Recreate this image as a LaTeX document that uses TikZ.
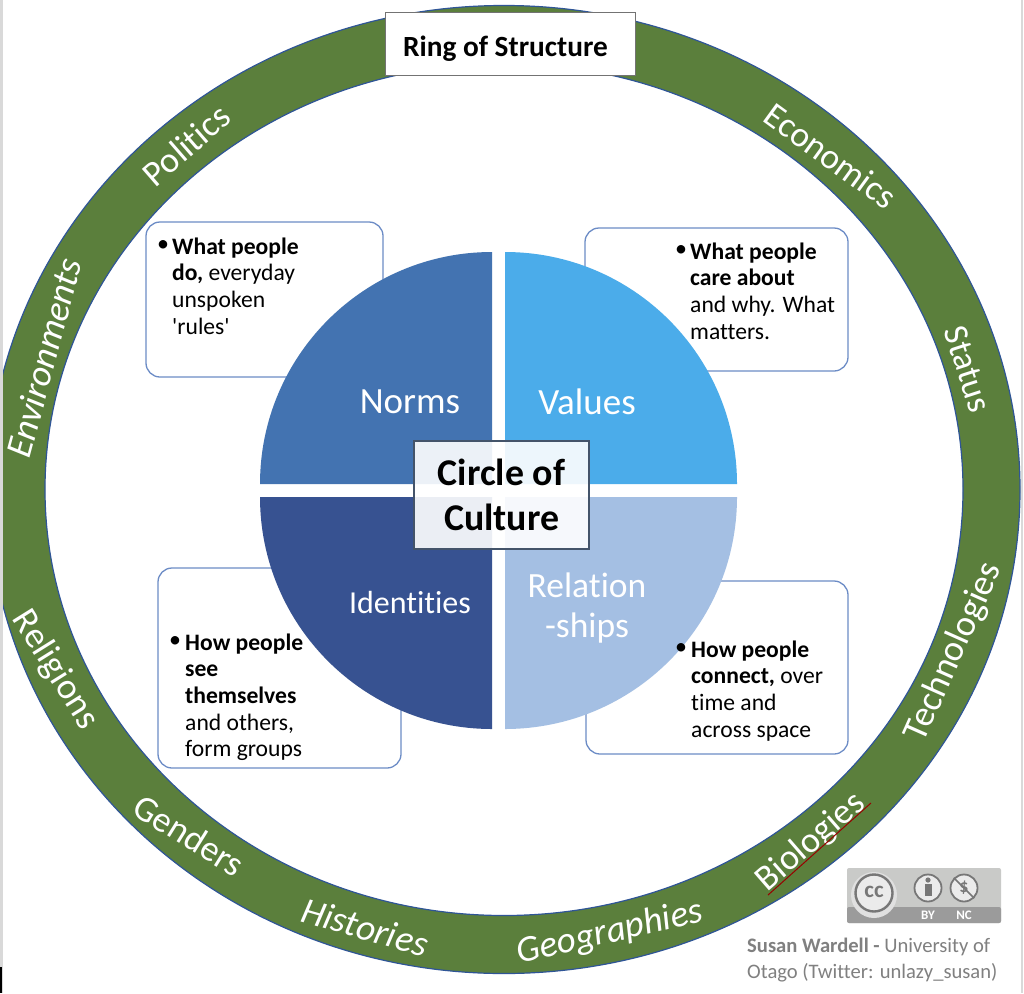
\documentclass[tikz,border=0pt]{standalone}
\usepackage{fontspec}
\setmainfont{Carlito}[Ligatures={TeX,NoCommon}]
\usetikzlibrary{positioning}

\definecolor{ringgreen}{HTML}{5B7F3C}
\definecolor{ringline}{HTML}{2F5597}
\definecolor{boxline}{HTML}{6C8CC6}
\definecolor{normsblue}{HTML}{4373B1}
\definecolor{valuesblue}{HTML}{4BACEA}
\definecolor{identblue}{HTML}{375291}
\definecolor{relblue}{HTML}{A4BFE3}
\definecolor{titleline}{HTML}{44546A}
\definecolor{ccgrey}{HTML}{C9CAC8}
\definecolor{ccdark}{HTML}{9B9B9B}
\definecolor{ccline}{HTML}{777777}

\tikzset{
  ringword/.style={text=white, font=\fontsize{#1}{#1}\selectfont, inner sep=0pt},
  ringslant/.style={text=white, font=\fontsize{#1}{#1}\selectfont\itshape, inner sep=0pt},
  quarter/.style={text=white, font=\fontsize{#1}{40}\selectfont, inner sep=0pt, align=center},
  infobox/.style={draw=boxline, line width=1.3pt, fill=white, rounded corners=14pt},
  infotext/.style={anchor=north west, align=left, inner sep=0pt, font=\fontsize{23.6}{26.6}\selectfont},
  dot/.style={inner sep=0pt, font=\fontsize{24}{26.6}\selectfont},
  ccicon/.style={circle, draw=ccline, line width=1.8pt, fill=black!8, minimum size=27pt, inner sep=0pt},
  cclabel/.style={inner sep=0pt, text=white, font=\fontsize{13}{13}\selectfont\bfseries}
}

\begin{document}
\begin{tikzpicture}[x=1pt, y=-1pt]
\useasboundingbox (0,0) rectangle (1024,993);
\def\rx{504}
\def\ry{489.5}

\fill[white] (0,0) rectangle (1024,993);
\fill[black!15] (0,0) rectangle (3,993);
\fill[black!15] (1021,0) rectangle (1023,993);
\fill[black] (0,967) rectangle (1.5,993);

\begin{scope}
\clip (3,0) rectangle (1021,993);
\fill[ringgreen, even odd rule] (\rx,\ry) ellipse (516 and 484) (\rx,\ry) ellipse (459 and 426);
\draw[ringline, line width=1.2pt] (\rx,\ry) ellipse (516 and 484);
\draw[ringline, line width=1.2pt] (\rx,\ry) ellipse (459 and 426);
\end{scope}

\node[draw=black!55, line width=1pt, fill=white, minimum width=250pt, minimum height=63pt, text height=31pt,
  font=\fontsize{29.3}{29.3}\selectfont\bfseries] (ringtitle) at (510,43.5) {Ring of Structure\hspace*{9pt}};

\node[ringword=36, rotate=41] (politics) at (186,145) {Politics};
\node[ringword=35.5, rotate=-36] (economics) at (831,156) {Economics};
\node[ringword=35, rotate=-72] (status) at (968,369) {Status};
\node[ringword=36.5, rotate=66] (technologies) at (954,652) {Technologies};
\node[ringword=36, rotate=41] (biologies) at (811,842) {Biologies};
\node[ringslant=37, rotate=13] (geographies) at (610,933) {Geographies};
\node[ringslant=37, rotate=-16] (histories) at (365,927) {Histories};
\node[ringword=36, rotate=-32] (genders) at (189,835) {Genders};
\node[ringword=36.5, rotate=-58] (religions) at (55,670) {Religions};
\node[ringslant=37, rotate=75] (environments) at (44,358) {Environments};
\draw[red!60!black, line width=1pt] (768,895) -- (871,803);

\draw[infobox] (146,222) rectangle (383,377);
\draw[infobox] (585,228) rectangle (848,371);
\draw[infobox] (158,568) rectangle (401,768);
\draw[infobox] (586,581) rectangle (848,754);

\node[dot] (dotnorms) at (163,246) {•};
\node[infotext] (textnorms) at (172,237.5) {\textbf{What people}\\\textbf{do,} everyday\\unspoken\\\textquotesingle rules\textquotesingle};
\node[dot] (dotvalues) at (681,251) {•};
\node[infotext] (textvalues) at (690,242.5) {\textbf{What people}\\\textbf{care about}\\and why. What\\matters.};
\node[dot] (dotident) at (175,642) {•};
\node[infotext] (textident) at (185,633.5) {\textbf{How people}\\\textbf{see}\\\textbf{themselves}\\and others,\\form groups};
\node[infotext] (textrel) at (691,640.5) {\textbf{How people}\\\textbf{connect,} over\\time and\\across space};

\fill[normsblue] (492,484) -- (260,484) arc (180:270:232) -- cycle;
\fill[valuesblue] (505,484) -- (505,252) arc (270:360:232) -- cycle;
\fill[identblue] (492,497) -- (492,729) arc (90:180:232) -- cycle;
\fill[relblue] (505,497) -- (737,497) arc (0:90:232) -- cycle;
\node[dot] (dotrel) at (681,649) {•};

\node[quarter=37] (norms) at (410,402) {Norms};
\node[quarter=37] (values) at (587,402) {Values};
\node[quarter=32] (identities) at (410,602) {Identities};
\node[quarter=35.5] (relationships) at (587,608) {Relation\\-ships};

\node[draw=titleline, line width=1.2pt, fill=white, fill opacity=0.9, text opacity=1,
  minimum width=175pt, minimum height=108pt, align=center,
  font=\fontsize{37.8}{45}\selectfont\bfseries] (circletitle) at (501.5,495) {Circle of\\Culture};

\fill[ccgrey, rounded corners=2pt] (847,868) rectangle (1001,923);
\fill[ccdark, rounded corners=2pt] (847,907) rectangle (1001,923);
\node[circle, fill=black!12, minimum size=46pt, inner sep=0pt] (ccback) at (874,895) {};
\node[ccicon, minimum size=37pt, line width=2.4pt, text=ccline, font=\fontsize{23}{23}\selectfont\bfseries] (cc) at (874,893) {\raisebox{2pt}{cc}};
\node[ccicon] (by) at (928,888) {};
\fill[ccline] (928,880) circle (2.6);
\fill[ccline] (924.5,884) rectangle (931.5,896);
\node[ccicon, text=ccline, font=\fontsize{18}{18}\selectfont\bfseries] (nc) at (964,888) {\$};
\draw[ccline, line width=1.6pt] (nc.north west) -- (nc.south east);
\node[cclabel] (bytext) at (928,915) {BY};
\node[cclabel] (nctext) at (964,915) {NC};

\node[anchor=north west, inner sep=0pt, align=left, text=black!50, font=\fontsize{20.6}{25.7}\selectfont] (credit) at (747,938)
  {\textbf{Susan Wardell -} University of\\Otago (Twitter: unlazy\_susan)};
\end{tikzpicture}
\end{document}
